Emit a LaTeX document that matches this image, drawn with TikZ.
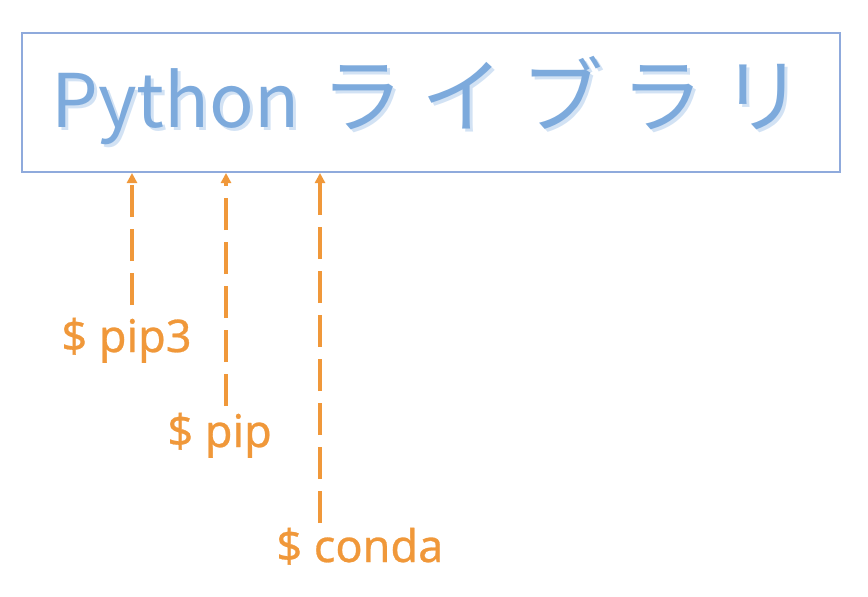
\documentclass[tikz,border=0pt]{standalone}
\usepackage{fontspec}
\setmainfont{Noto Sans CJK JP}
\newfontfamily\cmdfont[FakeBold=0.6]{Noto Sans}
\usetikzlibrary{positioning,arrows.meta}
\definecolor{boxline}{RGB}{143,170,220}
\definecolor{libblue}{RGB}{125,170,220}
\definecolor{libglow}{RGB}{210,226,244}
\definecolor{cmdorange}{RGB}{240,152,58}
\newcommand\kgap{\hspace{9pt}}

\begin{document}
\begin{tikzpicture}
            [x=0.5pt, y=-0.5pt,
            libtext/.style={inner sep=0pt, anchor=base west,
            font=\fontsize{37}{40}\selectfont, text=libblue},
            kanatext/.style={libtext, font=\fontsize{41}{44}\selectfont},
            cmd/.style={inner sep=0pt, anchor=base west,
            font=\cmdfont\fontsize{22.5}{26}\selectfont, text=cmdorange},
            install/.style={draw=cmdorange, line width=2pt,
            dash pattern=on 16pt off 6pt,
            -{Triangle[width=5pt,length=5pt]}}]
            \useasboundingbox (0,0) rectangle (868,596);
            \node (libbox) [draw=boxline, line width=1pt, minimum width=409pt,
                minimum height=69.5pt, inner sep=0pt] at (431,102.5) {};
            % text with a soft shadow
            \node [libtext, text=libglow] at (54,130) {Python};
            \node [kanatext, text=libglow] at (324,129) {ラ\kgap イ\kgap ブ\kgap ラ\kgap リ};
            \node (py) [libtext] at (51,127) {Python};
            \node (kana) [kanatext] at (321,126) {ラ\kgap イ\kgap ブ\kgap ラ\kgap リ};
            \node (pip3) [cmd] at (61,352) {\$ pip3};
            \node (pip) [cmd] at (167,447) {\$ pip};
            \node (conda) [cmd] at (276,562) {\$ conda};
            \coordinate (s1) at (132,305);
            \coordinate (s2) at (226,406);
            \coordinate (s3) at (320,523);
            \foreach \s in {s1,s2,s3}
                \draw [install] (\s) -- (\s |- libbox.south);
            \end{tikzpicture}
\end{document}
